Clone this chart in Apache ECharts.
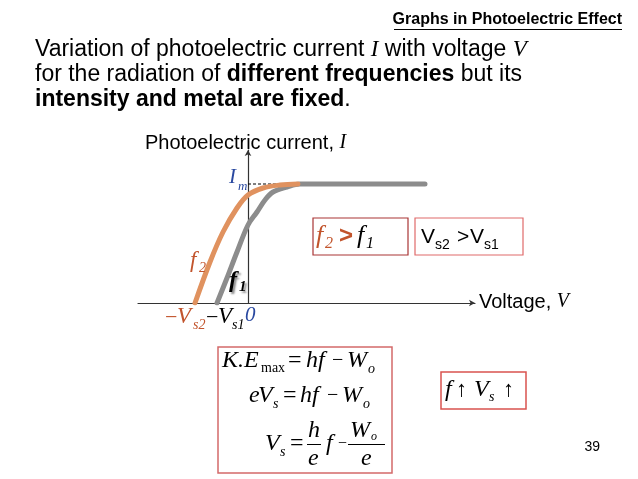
<!DOCTYPE html>
<html>
<head>
<meta charset="utf-8">
<script src="https://cdn.jsdelivr.net/npm/echarts@6/dist/echarts.min.js"></script>
<style>
html,body{margin:0;padding:0;background:#fff;}
#chart{width:638px;height:479px;}
</style>
</head>
<body>
<div id="chart"></div>
<script>
// ---- data (voltage in arbitrary units, current in arbitrary units) ----
var f1Voltage = [-3.1, -2.1, -1.1, 0.0, 0.9, 1.7, 2.5, 3.9, 5.2, 7.0, 17.7];
var f1Current = [0.0, 2.5, 5.1, 7.8, 9.1, 10.3, 11.1, 11.6, 11.9, 11.9, 11.9];
var f2Voltage = [-5.3, -3.8, -2.5, -1.1, 0.0, 1.5, 3.2, 5.0];
var f2Current = [0.0, 4.1, 7.1, 9.5, 10.8, 11.5, 11.8, 11.9];
var imLevel = 11.9;
var imDashEnd = [0.0, 3.9];

function zip(a, b) { return a.map(function (v, i) { return [v, b[i]]; }); }

var SANS = "'Liberation Sans', Arial, sans-serif";
var SERIF = "'Liberation Serif', 'Times New Roman', serif";
var ORANGE_TXT = '#c2542c';
var BLUE = '#2a49a0';

function t(x, y, s, o) {
  o = o || {};
  return {
    type: 'text', x: x, y: y, z: 10,
    style: {
      text: s,
      fontFamily: o.family || SERIF,
      fontSize: o.size || 22,
      fontStyle: o.style || (o.family ? 'normal' : 'italic'),
      fontWeight: o.weight || 'normal',
      fill: o.color || '#000',
      align: o.align || 'left',
      verticalAlign: 'middle',
      rich: o.rich,
      textShadowColor: o.shadow ? 'rgba(0,0,0,0.45)' : undefined,
      textShadowOffsetX: o.shadow ? 2 : 0,
      textShadowOffsetY: o.shadow ? 2 : 0,
      textShadowBlur: o.shadow ? 2 : 0
    }
  };
}
function box(x, y, w, h, color, lw) {
  return { type: 'rect', z: 9, shape: { x: x, y: y, width: w, height: h },
    style: { fill: 'none', stroke: color, lineWidth: lw || 1.2 } };
}
function line(x1, y1, x2, y2, color, lw) {
  return { type: 'line', z: 9, shape: { x1: x1, y1: y1, x2: x2, y2: y2 },
    style: { stroke: color, lineWidth: lw || 1 } };
}

var richTitle = {
  s: { fontFamily: SANS, fontSize: 23, fill: '#000' },
  b: { fontFamily: SANS, fontSize: 23, fontWeight: 'bold', fill: '#000' },
  i: { fontFamily: SERIF, fontSize: 23, fontStyle: 'italic', fill: '#000' }
};
var richAxis = {
  s: { fontFamily: SANS, fontSize: 20, fill: '#000' },
  i: { fontFamily: SERIF, fontSize: 20, fontStyle: 'italic', fill: '#000' }
};
var M = 24; // formula font size
var MS = 14; // formula subscript size

var graphics = [
  // header
  t(622, 20, 'Graphs in Photoelectric Effect', { family: SANS, size: 16, weight: 'bold', align: 'right' }),
  line(394, 29.5, 622, 29.5, '#000', 1),
  // title
  t(35, 49.5, '{s|Variation of photoelectric current }{i|I}{s| with voltage }{i|V}', { rich: richTitle, family: SANS, size: 23 }),
  t(35, 74.5, '{s|for the radiation of }{b|different frequencies}{s| but its}', { rich: richTitle, family: SANS, size: 23 }),
  t(35, 99.5, '{b|intensity and metal are fixed}{s|.}', { rich: richTitle, family: SANS, size: 23 }),
  // axis names
  t(145, 143, '{s|Photoelectric current, }{i|I}', { rich: richAxis, family: SANS, size: 20 }),
  t(479, 302, '{s|Voltage, }{i|V}', { rich: richAxis, family: SANS, size: 20 }),
  // Im, 0
  t(229, 177, 'I', { size: 21, color: BLUE }),
  t(238, 187, 'm', { size: 13, color: BLUE }),
  t(245, 315, '0', { size: 21, color: BLUE }),
  // -Vs2 -Vs1
  t(165, 318, '\u2212', { family: SERIF, size: 22, color: ORANGE_TXT }),
  t(177, 317, 'V', { size: 23, color: ORANGE_TXT }),
  t(193, 325, 's2', { size: 14, color: ORANGE_TXT }),
  t(206, 318, '\u2212', { family: SERIF, size: 22 }),
  t(218, 317, 'V', { size: 23 }),
  t(232, 325, 's1', { size: 14 }),
  // curve labels
  t(190, 261, 'f', { size: 23, color: ORANGE_TXT }),
  t(199, 268, '2', { size: 14, color: ORANGE_TXT }),
  t(229, 281, 'f', { size: 24, weight: 'bold', shadow: true }),
  t(239, 287, '1', { size: 15, weight: 'bold', shadow: true }),
  // box f2 > f1
  box(313, 218, 95, 37, '#a93535', 1.2),
  t(316, 236, 'f', { size: 26, color: ORANGE_TXT }),
  t(325, 244, '2', { size: 16, color: ORANGE_TXT }),
  t(339, 236, '>', { family: SANS, size: 24, weight: 'bold', color: ORANGE_TXT }),
  t(357, 236, 'f', { size: 26 }),
  t(366, 244, '1', { size: 16 }),
  // box Vs2 > Vs1
  box(415, 218, 108, 37, '#e06a6a', 1.2),
  t(421, 237, 'V', { family: SANS, size: 21 }),
  t(435, 245, 's2', { family: SANS, size: 14 }),
  t(457, 237, '>', { family: SANS, size: 21 }),
  t(470, 237, 'V', { family: SANS, size: 21 }),
  t(484, 245, 's1', { family: SANS, size: 14 }),
  // formula box
  box(218, 347, 174, 126, '#d46a6a', 1.5),
  // line 1
  t(222, 361, 'K.E', { size: M }),
  t(261, 368, 'max', { family: SERIF, size: MS }),
  t(288, 361, '=', { family: SERIF, size: M }),
  t(306, 361, 'h', { size: M }),
  t(318, 361, 'f', { size: M }),
  t(332, 361, '\u2212', { family: SERIF, size: 20 }),
  t(347, 361, 'W', { size: M }),
  t(368, 369, 'o', { size: MS }),
  // line 2
  t(249, 396, 'e', { size: M }),
  t(258, 396, 'V', { size: M }),
  t(273, 404, 's', { size: MS }),
  t(283, 396, '=', { family: SERIF, size: M }),
  t(300, 396, 'h', { size: M }),
  t(312, 396, 'f', { size: M }),
  t(327, 396, '\u2212', { family: SERIF, size: 20 }),
  t(342, 396, 'W', { size: M }),
  t(363, 404, 'o', { size: MS }),
  // line 3
  t(265, 444, 'V', { size: M }),
  t(280, 452, 's', { size: MS }),
  t(290, 444, '=', { family: SERIF, size: M }),
  t(308, 431, 'h', { size: M }),
  line(307, 444.5, 321, 444.5, '#000', 1),
  t(308, 459, 'e', { size: M }),
  t(326, 444, 'f', { size: M }),
  t(338, 444, '\u2212', { family: SERIF, size: 16 }),
  t(350, 431, 'W', { size: M }),
  t(371, 437, 'o', { size: 12 }),
  line(348, 444.5, 385, 444.5, '#000', 1),
  t(361, 459, 'e', { size: M }),
  // f up Vs up box
  box(441, 372, 85, 37, '#d9534f', 1.5),
  t(445, 390, 'f', { size: M }),
  t(456, 390, '\u2191', { family: SERIF, size: 22 }),
  t(474, 390, 'V', { size: M }),
  t(489, 397, 's', { size: MS }),
  t(503, 390, '\u2191', { family: SERIF, size: 22 }),
  // page number
  t(600, 447, '39', { family: SANS, size: 14, align: 'right' })
];

var chart = echarts.init(document.getElementById('chart'), null, { renderer: 'canvas' });
chart.setOption({
  animation: false,
  backgroundColor: '#fff',
  grid: { left: 138, right: 163, top: 150, bottom: 176, containLabel: false },
  xAxis: {
    type: 'value', min: -11, max: 22.7,
    axisLine: { show: true, onZero: true, symbol: ['none', 'arrow'], symbolSize: [5, 6],
      lineStyle: { color: '#333', width: 1.2 } },
    axisTick: { show: false }, axisLabel: { show: false }, splitLine: { show: false }
  },
  yAxis: {
    type: 'value', min: 0, max: 15.3,
    axisLine: { show: true, onZero: true, symbol: ['none', 'arrow'], symbolSize: [5, 6],
      lineStyle: { color: '#333', width: 1.2 } },
    axisTick: { show: false }, axisLabel: { show: false }, splitLine: { show: false }
  },
  series: [
    {
      type: 'line', name: 'Im', data: zip(imDashEnd, [imLevel, imLevel]),
      symbol: 'none', z: 1,
      lineStyle: { color: '#000', width: 1, type: [3, 2] }
    },
    {
      type: 'line', name: 'f1', data: zip(f1Voltage, f1Current),
      smooth: 0.35, symbol: 'none', z: 2,
      lineStyle: { color: '#8c8c8c', width: 5, cap: 'round', join: 'round' }
    },
    {
      type: 'line', name: 'f2', data: zip(f2Voltage, f2Current),
      smooth: 0.35, symbol: 'none', z: 3,
      lineStyle: { color: '#e0925f', width: 5, cap: 'round', join: 'round' }
    }
  ],
  graphic: graphics
});
</script>
</body>
</html>
